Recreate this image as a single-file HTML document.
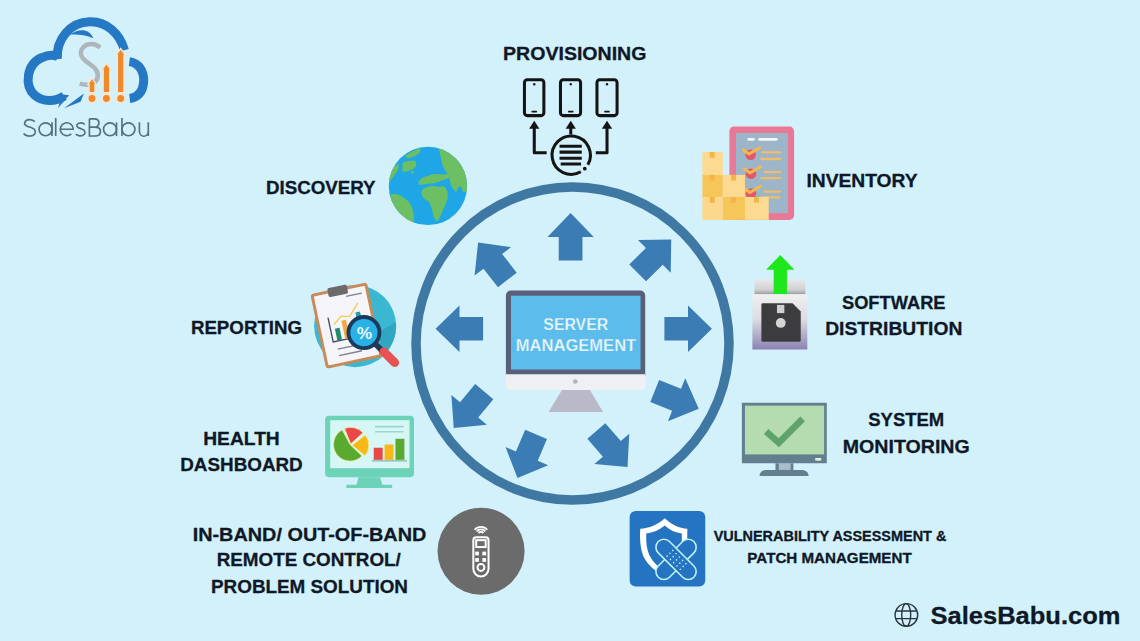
<!DOCTYPE html>
<html><head><meta charset="utf-8">
<style>
html,body{margin:0;padding:0;width:1140px;height:641px;overflow:hidden;background:#d3f1fb;}
svg{display:block;}
.lb{font-family:"Liberation Sans",sans-serif;font-weight:bold;fill:#0e1826;}
</style></head>
<body>
<svg width="1140" height="641" viewBox="0 0 1140 641">
<defs>
<path id="arr" d="M0,0 L-23.9,-23.15 L-23.9,-11.85 L-47.5,-11.85 L-47.5,11.85 L-23.9,11.85 L-23.9,23.15 Z"/>
</defs>
<rect width="1140" height="641" fill="#d3f1fb"/>

<!-- big circle -->
<circle cx="572.5" cy="343.5" r="156.5" fill="none" stroke="#3f78a3" stroke-width="9.5"/>

<!-- arrows -->
<g fill="#3a7cb3">
<use href="#arr" transform="translate(570.6,213) rotate(-90)"/>
<use href="#arr" transform="translate(671.25,239.4) rotate(-45)"/>
<use href="#arr" transform="translate(711.9,328.75)"/>
<use href="#arr" transform="translate(698.75,408.75) rotate(22)"/>
<use href="#arr" transform="translate(627.5,466.9) rotate(49)"/>
<use href="#arr" transform="translate(517.5,478.1) rotate(113)"/>
<use href="#arr" transform="translate(453.75,428.1) rotate(130)"/>
<use href="#arr" transform="translate(435.6,328.75) rotate(180)"/>
<use href="#arr" transform="translate(478.1,242.5) rotate(-128)"/>
</g>

<!-- central monitor -->
<g>
<rect x="505.9" y="290.5" width="139.3" height="90" rx="5" fill="#5a5f78"/>
<rect x="511" y="295.7" width="129.5" height="73.8" fill="#5cbdec"/>
<path d="M505.9,374.3 H645.2 V386 a4,4 0 0 1 -4,4 H509.9 a4,4 0 0 1 -4,-4 Z" fill="#eef0f4"/>
<circle cx="575.3" cy="381.5" r="2.3" fill="#b0b3c0"/>
<path d="M562,390 H590 L603,412 H548.5 Z" fill="#b9b9c9"/>
</g>


<!-- ===== logo ===== -->
<g transform="translate(15,10) scale(0.16385)">
  <g fill="none" stroke="#2478c4" stroke-width="55" stroke-linecap="butt">
    <path d="M300,525 C250,560 170,565 120,520 C55,460 70,330 165,290 C205,272 240,275 262,285"/>
    <path d="M258,300 C250,175 340,75 455,72 C560,68 640,145 668,245"/>
    <path d="M698,315 C755,322 790,375 785,440 C780,505 745,535 700,540"/>
  </g>
  <path d="M338,150 C390,110 455,115 478,172 C445,158 395,148 338,150 Z" fill="#2478c4"/>
  <path d="M290,515 L330,520 L262,600 Z" fill="#2478c4"/>
  <path d="M300,600 L420,510 L400,560 Z" fill="#2478c4"/>
  <path d="M520,230 C490,200 440,200 415,230 C385,265 410,300 450,325 C490,350 520,380 500,425 C480,460 430,460 395,450" fill="none" stroke="#adb5bd" stroke-width="27"/>
  <g fill="#ee8a2b" stroke="#fbe6cc" stroke-width="8">
    <path d="M452,505 V455 H444 L470,415 L496,455 H488 V505 Z"/>
    <path d="M538,505 V365 H530 L558,325 L586,365 H578 V505 Z"/>
    <path d="M625,505 V275 H617 L645,235 L673,275 H665 V505 Z"/>
    <circle cx="470" cy="540" r="25"/>
    <circle cx="558" cy="540" r="25"/>
    <circle cx="645" cy="540" r="25"/>
  </g>
</g>

<!-- ===== provisioning ===== -->
<g transform="translate(480,30) scale(0.23392)" fill="none" stroke="#141414" stroke-width="13" stroke-linejoin="round">
  <rect x="190" y="213" width="83" height="153" rx="12"/>
  <rect x="344" y="213" width="86" height="153" rx="12"/>
  <rect x="500" y="213" width="86" height="153" rx="12"/>
  <path d="M232,410 V525 H285"/>
  <path d="M388,410 V447"/>
  <path d="M543,410 V525 H495"/>
  <path d="M431,606 A82,82 0 1 1 461,576"/>
  <g stroke-width="13"><path d="M340,497 H435 M340,522 H435 M340,548 H435 M345,573 H432"/></g>
</g>
<g transform="translate(480,30) scale(0.23392)" fill="#141414">
  <path d="M232,388 L210,422 H254 Z"/>
  <path d="M388,388 L366,422 H410 Z"/>
  <path d="M543,388 L521,422 H565 Z"/>
  <circle cx="232" cy="232" r="5"/><circle cx="388" cy="232" r="5"/><circle cx="543" cy="232" r="5"/>
  <rect x="220" y="345" width="24" height="8" rx="3"/><rect x="376" y="345" width="24" height="8" rx="3"/><rect x="531" y="345" width="24" height="8" rx="3"/>
  <circle cx="448" cy="593" r="8"/>
</g>


<!-- ===== globe ===== -->
<g transform="translate(388,146) scale(0.1248)">
  <defs><clipPath id="gclip"><circle cx="320" cy="320" r="314"/></clipPath></defs>
  <circle cx="320" cy="320" r="314" fill="#1ea6e6"/>
  <g clip-path="url(#gclip)" fill="#6cbf62">
    <path d="M400,0 L410,30 C420,80 430,130 440,160 C450,190 465,205 470,210 C485,235 492,265 500,300 C508,325 520,345 545,370 C555,350 560,335 565,330 C575,322 585,325 590,335 C595,350 598,365 600,370 C615,368 630,362 650,355 L650,0 Z"/>
    <path d="M245,290 C255,265 275,252 320,240 C340,230 350,220 400,225 C430,228 455,232 480,220 C492,232 500,245 500,250 C485,258 470,265 420,280 C395,290 380,300 330,300 C310,302 290,312 250,310 C246,305 244,298 245,290 Z"/>
    <path d="M265,370 C275,345 290,330 350,320 C380,318 400,332 440,320 C460,330 472,345 478,380 C482,410 475,440 455,480 C440,510 430,540 420,560 C410,585 400,600 390,600 C372,590 360,550 355,520 C350,490 340,465 320,440 C300,432 275,420 265,370 Z"/>
    <path d="M115,140 C130,125 160,115 220,120 C228,135 228,150 225,160 C215,175 205,185 150,205 C130,207 118,205 115,200 Z"/>
    <circle cx="197" cy="210" r="11"/>
    <path d="M140,80 C160,60 200,40 262,18 C262,35 258,45 255,50 C240,68 225,82 160,100 C148,98 140,90 140,80 Z"/>
    <path d="M0,230 C20,200 50,160 85,140 C88,160 85,175 80,190 C65,215 50,240 0,300 Z"/>
    <path d="M0,400 C20,388 40,385 60,385 C85,388 110,400 160,440 C185,465 200,500 208,560 C210,590 205,620 200,660 L0,660 Z"/>
  </g>
</g>

<!-- ===== inventory ===== -->
<g transform="translate(695,120) scale(0.1638)">
  <rect x="210" y="40" width="395" height="570" rx="28" fill="#e87896"/>
  <rect x="250" y="80" width="318" height="490" rx="6" fill="#9cb5c8"/>
  <rect x="320" y="110" width="45" height="16" rx="8" fill="#f4f6f8"/>
  <rect x="385" y="110" width="120" height="16" rx="8" fill="#f4f6f8"/>
  <g fill="#e25868"><circle cx="340" cy="212" r="32"/><circle cx="342" cy="328" r="32"/><circle cx="342" cy="448" r="32"/></g>
  <g fill="none" stroke="#f6b84a" stroke-width="18" stroke-linecap="round" stroke-linejoin="round">
    <path d="M295,182 L330,208 L395,170"/><path d="M300,297 L335,323 L400,285"/><path d="M300,417 L335,443 L400,405"/>
  </g>
  <g stroke="#f0bd68" stroke-width="14" stroke-linecap="round">
    <path d="M410,198 H522 M405,238 H520 M425,318 H522 M405,355 H520 M425,437 H520 M405,473 H515"/>
  </g>
  <g>
    <rect x="45" y="195" width="125" height="140" fill="#fcda92"/>
    <rect x="45" y="335" width="125" height="135" fill="#f7c658"/>
    <rect x="45" y="470" width="125" height="140" fill="#fcd88c"/>
    <rect x="170" y="335" width="135" height="135" fill="#fcda92"/>
    <rect x="170" y="470" width="135" height="140" fill="#f7c658"/>
    <rect x="305" y="470" width="145" height="140" fill="#fcda92"/>
    <g fill="#f3b545"><rect x="90" y="195" width="30" height="35"/><rect x="90" y="335" width="30" height="35"/><rect x="90" y="470" width="30" height="35"/><rect x="220" y="335" width="30" height="35"/><rect x="220" y="470" width="30" height="35"/><rect x="360" y="470" width="30" height="35"/></g>
  </g>
</g>

<!-- ===== software ===== -->
<g transform="translate(745,250) scale(0.16393)">
  <defs>
    <linearGradient id="lid" x1="0" y1="0" x2="0" y2="1"><stop offset="0" stop-color="#e9e9e9"/><stop offset="0.7" stop-color="#d0d0d0"/><stop offset="1" stop-color="#9c9c9c"/></linearGradient>
    <linearGradient id="body" x1="0" y1="0" x2="0" y2="1"><stop offset="0" stop-color="#f0f0f0"/><stop offset="0.45" stop-color="#dcdce2"/><stop offset="1" stop-color="#8b82b4"/></linearGradient>
  </defs>
  <rect x="58" y="180" width="310" height="90" fill="url(#lid)"/>
  <rect x="45" y="270" width="335" height="337" fill="url(#body)"/>
  <path d="M108,325 H290 L340,375 V550 a10,10 0 0 1 -10,10 H110 a10,10 0 0 1 -10,-10 V333 a8,8 0 0 1 8,-8 Z" fill="#3c3c3e"/>
  <rect x="195" y="335" width="45" height="50" fill="#cfcfcf"/>
  <circle cx="218" cy="445" r="30" fill="#d4d4d4"/>
  <path d="M215,30 L302,120 H256 V268 H175 V120 H128 Z" fill="#1ee81c"/>
</g>

<!-- ===== system monitoring ===== -->
<g transform="translate(735,395) scale(0.13263)">
  <rect x="52" y="58" width="640" height="457" rx="4" fill="#637e8f"/>
  <rect x="75" y="80" width="597" height="368" fill="#b5dcb0"/>
  <rect x="605" y="475" width="45" height="20" fill="#e6eee2"/>
  <rect x="305" y="515" width="135" height="52" fill="#637e8f"/>
  <rect x="330" y="515" width="90" height="50" fill="#a9bdcc"/>
  <path d="M185,610 C185,585 205,565 240,565 H500 C535,565 555,585 555,610 Z" fill="#637e8f"/>
  <path d="M235,275 L330,360 L510,180" fill="none" stroke="#5ea36c" stroke-width="50"/>
</g>

<!-- ===== vulnerability ===== -->
<g transform="translate(625,505) scale(0.13263)">
  <rect x="35" y="45" width="570" height="570" rx="45" fill="#2474c2"/>
  <path d="M300,100 C250,150 180,175 115,180 C110,260 115,330 140,390 C170,450 220,490 290,540 L300,545 L320,530 C390,480 440,430 460,360 C470,300 470,240 470,180 C410,175 350,150 300,100 Z" fill="#ffffff"/>
  <path d="M300,155 C260,190 210,210 160,215 C158,280 163,335 185,380 C210,430 250,465 300,500 C350,465 395,425 415,370 C428,320 430,265 428,215 C380,210 335,190 300,155 Z" fill="#2474c2"/>
  <g fill="#2474c2" stroke="#bff0f6" stroke-width="12">
    <g transform="rotate(-45 385 410)"><rect x="195" y="350" width="380" height="120" rx="60"/></g>
    <g transform="rotate(45 385 410)"><rect x="195" y="350" width="380" height="120" rx="60"/></g>
  </g>
  <g fill="#bff0f6" transform="rotate(45 385 410)">
    <circle cx="320" cy="380" r="6"/><circle cx="355" cy="380" r="6"/><circle cx="390" cy="380" r="6"/><circle cx="425" cy="380" r="6"/><circle cx="460" cy="380" r="6"/>
    <circle cx="320" cy="410" r="6"/><circle cx="355" cy="410" r="6"/><circle cx="390" cy="410" r="6"/><circle cx="425" cy="410" r="6"/><circle cx="460" cy="410" r="6"/>
    <circle cx="320" cy="440" r="6"/><circle cx="355" cy="440" r="6"/><circle cx="390" cy="440" r="6"/><circle cx="425" cy="440" r="6"/><circle cx="460" cy="440" r="6"/>
  </g>
</g>

<!-- ===== remote ===== -->
<g transform="translate(435,505) scale(0.14353)">
  <circle cx="321" cy="322" r="303" fill="#6b6b6b"/>
  <g fill="none" stroke="#ffffff" stroke-width="14">
    <path d="M267,245 a20,20 0 0 1 20,-20 H353 a20,20 0 0 1 20,20 V445 a53,53 0 0 1 -106,0 Z"/>
    <rect x="287" y="245" width="66" height="48"/>
    <circle cx="320" cy="435" r="24"/>
  </g>
  <g fill="none" stroke="#ffffff" stroke-width="12">
    <path d="M303.1,195.9 A22,22 0 0 1 336.9,195.9"/>
    <path d="M289.4,184.3 A40,40 0 0 1 350.6,184.3"/>
    <path d="M275.6,172.7 A58,58 0 0 1 364.4,172.7"/>
  </g>
  <g fill="#ffffff"><rect x="280" y="325" width="26" height="26"/><rect x="330" y="325" width="26" height="26"/><rect x="280" y="370" width="26" height="26"/><rect x="330" y="370" width="26" height="26"/></g>
</g>

<!-- ===== health dashboard ===== -->
<g transform="translate(320,410) scale(0.12788)">
  <rect x="40" y="45" width="695" height="480" rx="30" fill="#6dd3b8"/>
  <rect x="80" y="80" width="620" height="375" fill="#d6f7f6"/>
  <path d="M300,525 H470 L490,590 H285 Z" fill="#6dd3b8"/>
  <rect x="205" y="585" width="360" height="25" rx="10" fill="#6dd3b8"/>
  <path d="M235,270 L328.5,360.3 A130,130 0 1 1 174,155.2 Z" fill="#5aaa30" stroke="#f6f1a0" stroke-width="6"/>
  <path d="M240,265 L191.3,144.5 A130,130 0 0 1 336.6,178 Z" fill="#e94848" stroke="#f6f1a0" stroke-width="6"/>
  <path d="M252,275 L354.4,195 A130,130 0 0 1 351.6,358.6 Z" fill="#f8b818" stroke="#f6f1a0" stroke-width="6"/>
  <rect x="420" y="295" width="70" height="95" fill="#e94848"/>
  <rect x="505" y="270" width="70" height="120" fill="#f8b818"/>
  <rect x="590" y="225" width="70" height="165" fill="#5aaa30"/>
  <rect x="405" y="390" width="275" height="14" fill="#99c5c4"/>
  <g stroke="#9bd6d0" stroke-width="12"><path d="M430,130 H655 M430,170 H655"/></g>
</g>

<!-- ===== reporting ===== -->
<g transform="translate(305,278) scale(0.14663)">
  <circle cx="342" cy="328" r="280" fill="#3ab8d2"/>
  <path d="M520,540 A280,280 0 0 0 620,300 L420,420 Z" fill="#30a7c2"/>
  <g transform="rotate(-12 280 320)">
    <rect x="85" y="65" width="395" height="520" rx="22" fill="#c98a5a"/>
    <rect x="105" y="85" width="355" height="480" rx="8" fill="#f4f4f9"/>
    <rect x="205" y="50" width="135" height="62" rx="12" fill="#6a6a6a"/>
    <path d="M170,245 V415 H330" fill="none" stroke="#3c4a5a" stroke-width="9"/>
    <rect x="200" y="330" width="32" height="82" fill="#1e8c6c"/>
    <rect x="255" y="285" width="32" height="127" fill="#f0a848"/>
    <rect x="360" y="250" width="32" height="60" fill="#2c9cb0"/>
    <path d="M200,300 L260,255 L315,270 L390,190" fill="none" stroke="#f2cc5a" stroke-width="9"/>
    <g stroke="#7a8090" stroke-width="9"><path d="M320,130 H430 M190,470 H330 M190,515 H350"/></g>
  </g>
  <path d="M480,450 L545,515" stroke="#1a3a5e" stroke-width="38"/>
  <path d="M538,503 L612,577" stroke="#e85252" stroke-width="60" stroke-linecap="round"/>
  <circle cx="402" cy="372" r="106" fill="#29b0e5" stroke="#1a3a5e" stroke-width="26"/>
  <text x="405" y="414" text-anchor="middle" style="font-family:'Liberation Sans',sans-serif;font-weight:bold;font-size:118px;fill:#e8f8fc">%</text>
</g>

<!-- ===== footer globe ===== -->
<g fill="none" stroke="#27363d" stroke-width="1.4">
  <circle cx="906.4" cy="614.9" r="11.3"/>
  <ellipse cx="906.2" cy="614.9" rx="4.5" ry="11.3"/>
  <path d="M895.8,611 H917 M895.8,618.6 H917"/>
</g>

<!-- logo text -->
<g transform="translate(15,108) scale(0.12719)" fill="none" stroke="#52707e" stroke-width="13" stroke-linecap="butt">
  <path d="M155,108 C140,88 90,82 78,110 C65,140 110,148 130,155 C160,165 165,185 155,205 C140,228 85,225 68,200"/>
  <circle cx="240" cy="167.5" r="51"/><path d="M291,113 V221"/>
  <path d="M320,78 V221"/>
  <path d="M357,167 H458 A51,51 0 1 0 443,203"/>
  <path d="M548,130 C535,112 495,112 487,132 C480,152 510,160 525,165 C550,172 555,192 545,207 C530,225 490,222 478,205"/>
  <path d="M585,85 V220 H630 C660,220 672,205 672,183 C672,160 655,150 625,150 H585 M585,150 H620 C648,150 660,137 660,117 C660,97 645,85 622,85 H585"/>
  <circle cx="747" cy="167.5" r="51"/><path d="M798,113 V221"/>
  <path d="M841,78 V221"/><circle cx="892" cy="167.5" r="51"/>
  <path d="M978,113 V178 C978,207 995,222 1013,222 C1031,222 1048,207 1048,178 M1048,113 V221"/>
</g>
<!-- labels -->
<!--TEXTS-->
<text id="sv1" x="575.75" y="330.00" text-anchor="middle" textLength="64.81" lengthAdjust="spacingAndGlyphs" font-size="16.40" font-family="Liberation Sans, sans-serif" font-weight="bold" fill="#eaf6fa" stroke="#5cbdec" stroke-width="0.25">SERVER</text>
<text id="sv2" x="576.00" y="351.00" text-anchor="middle" textLength="120.39" lengthAdjust="spacingAndGlyphs" font-size="16.40" font-family="Liberation Sans, sans-serif" font-weight="bold" fill="#eaf6fa" stroke="#5cbdec" stroke-width="0.25">MANAGEMENT</text>
<text id="prov" x="574.75" y="60.00" text-anchor="middle" textLength="143.32" lengthAdjust="spacingAndGlyphs" font-size="18.90" font-family="Liberation Sans, sans-serif" font-weight="bold" fill="#0e1826" stroke="#0e1826" stroke-width="0.3">PROVISIONING</text>
<text id="disc" x="320.75" y="194.00" text-anchor="middle" textLength="109.67" lengthAdjust="spacingAndGlyphs" font-size="18.90" font-family="Liberation Sans, sans-serif" font-weight="bold" fill="#0e1826" stroke="#0e1826" stroke-width="0.3">DISCOVERY</text>
<text id="inv" x="862.00" y="186.50" text-anchor="middle" textLength="111.21" lengthAdjust="spacingAndGlyphs" font-size="18.90" font-family="Liberation Sans, sans-serif" font-weight="bold" fill="#0e1826" stroke="#0e1826" stroke-width="0.3">INVENTORY</text>
<text id="sw1" x="893.75" y="309.00" text-anchor="middle" textLength="103.58" lengthAdjust="spacingAndGlyphs" font-size="18.90" font-family="Liberation Sans, sans-serif" font-weight="bold" fill="#0e1826" stroke="#0e1826" stroke-width="0.3">SOFTWARE</text>
<text id="sw2" x="893.75" y="334.50" text-anchor="middle" textLength="137.21" lengthAdjust="spacingAndGlyphs" font-size="18.90" font-family="Liberation Sans, sans-serif" font-weight="bold" fill="#0e1826" stroke="#0e1826" stroke-width="0.3">DISTRIBUTION</text>
<text id="sy1" x="906.25" y="425.50" text-anchor="middle" textLength="76.04" lengthAdjust="spacingAndGlyphs" font-size="18.90" font-family="Liberation Sans, sans-serif" font-weight="bold" fill="#0e1826" stroke="#0e1826" stroke-width="0.3">SYSTEM</text>
<text id="sy2" x="906.25" y="452.50" text-anchor="middle" textLength="127.02" lengthAdjust="spacingAndGlyphs" font-size="18.90" font-family="Liberation Sans, sans-serif" font-weight="bold" fill="#0e1826" stroke="#0e1826" stroke-width="0.3">MONITORING</text>
<text id="vu1" x="830.00" y="541.00" text-anchor="middle" textLength="232.67" lengthAdjust="spacingAndGlyphs" font-size="14.30" font-family="Liberation Sans, sans-serif" font-weight="bold" fill="#0e1826" stroke="#0e1826" stroke-width="0.3">VULNERABILITY ASSESSMENT &amp;</text>
<text id="vu2" x="829.50" y="562.50" text-anchor="middle" textLength="164.30" lengthAdjust="spacingAndGlyphs" font-size="14.30" font-family="Liberation Sans, sans-serif" font-weight="bold" fill="#0e1826" stroke="#0e1826" stroke-width="0.3">PATCH MANAGEMENT</text>
<text id="ib1" x="309.50" y="541.00" text-anchor="middle" textLength="233.64" lengthAdjust="spacingAndGlyphs" font-size="18.90" font-family="Liberation Sans, sans-serif" font-weight="bold" fill="#0e1826" stroke="#0e1826" stroke-width="0.3">IN-BAND/ OUT-OF-BAND</text>
<text id="ib2" x="308.75" y="566.00" text-anchor="middle" textLength="184.15" lengthAdjust="spacingAndGlyphs" font-size="18.90" font-family="Liberation Sans, sans-serif" font-weight="bold" fill="#0e1826" stroke="#0e1826" stroke-width="0.3">REMOTE CONTROL/</text>
<text id="ib3" x="309.50" y="592.50" text-anchor="middle" textLength="196.91" lengthAdjust="spacingAndGlyphs" font-size="18.90" font-family="Liberation Sans, sans-serif" font-weight="bold" fill="#0e1826" stroke="#0e1826" stroke-width="0.3">PROBLEM SOLUTION</text>
<text id="he1" x="241.50" y="444.50" text-anchor="middle" textLength="76.52" lengthAdjust="spacingAndGlyphs" font-size="18.90" font-family="Liberation Sans, sans-serif" font-weight="bold" fill="#0e1826" stroke="#0e1826" stroke-width="0.3">HEALTH</text>
<text id="he2" x="241.50" y="471.00" text-anchor="middle" textLength="122.44" lengthAdjust="spacingAndGlyphs" font-size="18.90" font-family="Liberation Sans, sans-serif" font-weight="bold" fill="#0e1826" stroke="#0e1826" stroke-width="0.3">DASHBOARD</text>
<text id="rep" x="246.50" y="334.00" text-anchor="middle" textLength="111.20" lengthAdjust="spacingAndGlyphs" font-size="18.90" font-family="Liberation Sans, sans-serif" font-weight="bold" fill="#0e1826" stroke="#0e1826" stroke-width="0.3">REPORTING</text>
<text id="site" x="1025.50" y="624.00" text-anchor="middle" textLength="189.74" lengthAdjust="spacingAndGlyphs" font-size="24.30" font-family="Liberation Sans, sans-serif" font-weight="bold" fill="#0e1826" stroke="#0e1826" stroke-width="0.3">SalesBabu.com</text>
<!--/TEXTS-->

</svg>
</body></html>
